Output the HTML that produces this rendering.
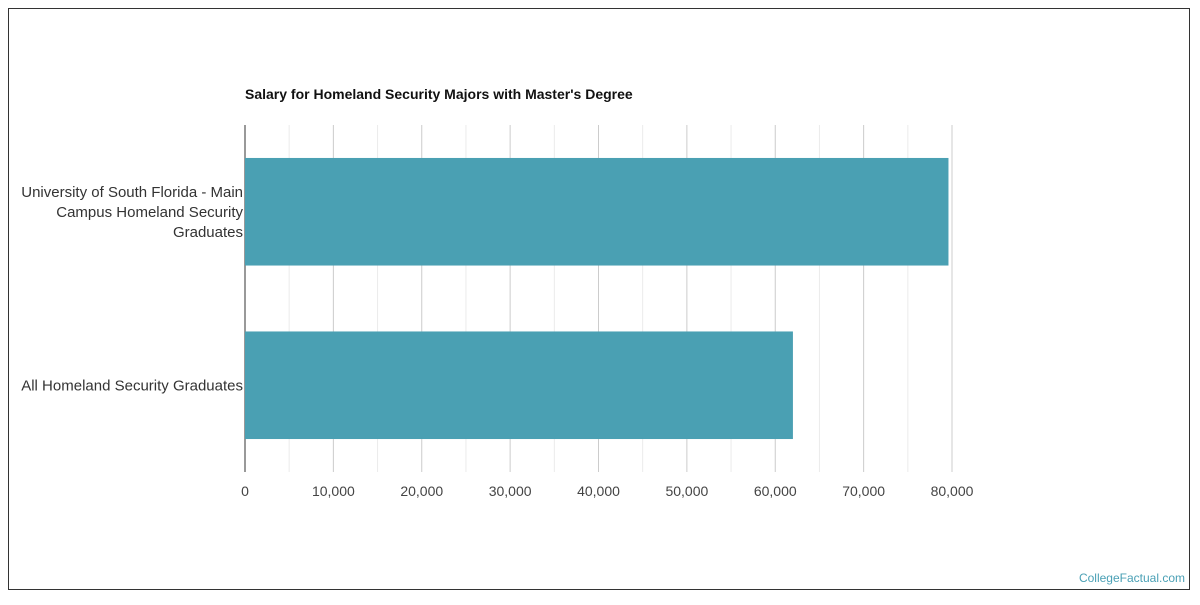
<!DOCTYPE html>
<html><head><meta charset="utf-8"><style>
body{margin:0;background:#fff;}
svg text{font-family:"Liberation Sans",sans-serif;}
</style></head><body>
<svg id="chart" width="1200" height="600">
<rect x="8.5" y="8.5" width="1181" height="581" fill="#fff" stroke="#333"/>
<text x="245" y="99" font-size="14" font-weight="bold" fill="#111">Salary for Homeland Security Majors with Master's Degree</text>
<g id="grid"></g><g id="bars"></g><g id="labels"></g>
<text x="1185" y="582" font-size="12" fill="#4aa0b5" text-anchor="end">CollegeFactual.com</text>
</svg>
<script>
const categories=[["University of South Florida - Main","Campus Homeland Security","Graduates"],["All Homeland Security Graduates"]];
const values=[79600,62000];
const ticks=[0,10000,20000,30000,40000,50000,60000,70000,80000];
const tickLabels=["0","10,000","20,000","30,000","40,000","50,000","60,000","70,000","80,000"];
const NS="http://www.w3.org/2000/svg";
const x0=245,pxPer=707/80000,plotTop=125,plotBottom=472,band=(plotBottom-plotTop)/categories.length;
const xs=v=>x0+v*pxPer;
function mk(t,a,p){const e=document.createElementNS(NS,t);for(const k in a)e.setAttribute(k,a[k]);p.appendChild(e);return e;}
const g=document.getElementById('grid'),b=document.getElementById('bars'),l=document.getElementById('labels');
for(let v=5000;v<=80000;v+=5000){
 const ln=mk('line',{x1:xs(v),x2:xs(v),y1:plotTop,y2:plotBottom,stroke:v%10000?'#ebebeb':'#cccccc'},g);
 
 
}
ticks.forEach((v,i)=>{
 const t=mk('text',{x:xs(v),y:496,'font-size':14,fill:'#444','text-anchor':'middle'},l);
 t.textContent=tickLabels[i];
 
 
});
values.forEach((v,i)=>{
 const y=plotTop+band*i+band*0.19;
 const r=mk('rect',{x:x0,y:y,width:xs(v)-x0,height:band*0.62,fill:'#4aa0b3'},b);
 
 
 const lines=categories[i],cy=plotTop+band*(i+0.5);
 lines.forEach((s,j)=>{
  const t=mk('text',{x:243,y:cy+5+(j-(lines.length-1)/2)*20,'font-size':15,fill:'#333','text-anchor':'end'},l);
  t.textContent=s;
  
  
 });
});
const ax=mk('line',{x1:x0,x2:x0,y1:plotTop,y2:plotBottom,stroke:'#333'},g);


</script>
</body></html>
